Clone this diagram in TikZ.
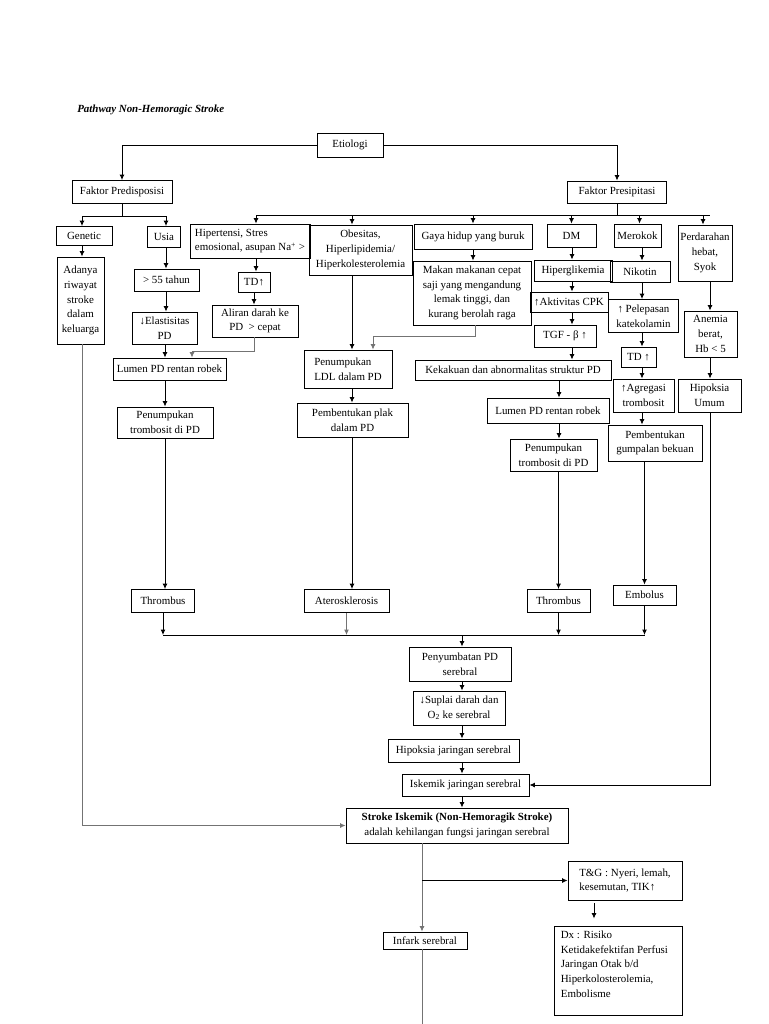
\documentclass[tikz,border=0pt]{standalone}
\usepackage{fontspec}
\setmainfont{Liberation Serif}
\usetikzlibrary{arrows.meta,calc}
\newcommand\fs{\fontsize{8.2}{11}\selectfont}
\begin{document}
\begin{tikzpicture}[x=0.75pt,y=-0.75pt,
  bx/.style={draw, line width=0.65pt, inner sep=1pt, align=center, font=\fs},
  sz/.style 2 args={minimum width=#1*0.75pt, minimum height=#2*0.75pt},
  tx/.style={font=\fs, align=left, inner sep=0pt},
  ln/.style={line width=0.65pt},
  arr/.style={ln,-{Latex[length=4pt,width=3.6pt]}},
  gl/.style={draw=black!55}]
\fill[white] (0,0) rectangle (768,1024);
\useasboundingbox (0,0) rectangle (768,1024);
% column coordinates
\coordinate (xG) at (82,0);
\coordinate (xU) at (166,0);
\coordinate (xH) at (256,0);
\coordinate (xT) at (254,0);
\coordinate (xLm) at (192,0);
\coordinate (xL) at (165,0);
\coordinate (xO) at (352,0);
\coordinate (xGy) at (473,0);
\coordinate (xMk) at (475,0);
\coordinate (xLd) at (373,0);
\coordinate (xDM) at (572,0);
\coordinate (xK) at (559,0);
\coordinate (xM) at (642,0);
\coordinate (xP) at (710,0);
\coordinate (xC) at (462,0);
\coordinate (xS) at (422,0);
\coordinate (xD) at (594,0);
\coordinate (pd) at (0,216);
\coordinate (pr) at (0,215);
\coordinate (mg) at (0,635);
\coordinate (bot) at (0,1024);

% title
\node[anchor=west, font=\fs\bfseries\itshape, inner sep=0pt] (title) at (77,110) {Pathway Non-Hemoragic Stroke};

% nodes
\node[bx, sz={66}{24}] (etio) at (350,145) {Etiologi};
\node[bx, sz={100}{23}] (fpred) at (122,192) {Faktor Predisposisi};
\node[bx, sz={99}{22}] (fpres) at (617,192) {Faktor Presipitasi};
\node[bx, sz={56}{19}] (genetic) at (84,236) {Genetic};
\node[bx, sz={33}{21}] (usia) at (164,237) {Usia};
\node[bx, sz={120}{34}, align=left] (hip) at (250,241) {Hipertensi, Stres\\emosional, asupan Na\textsuperscript{+} >};
\node[bx, sz={103}{50}] (obes) at (360.5,250) {Obesitas,\\Hiperlipidemia/\\Hiperkolesterolemia};
\node[bx, sz={118}{25}] (gaya) at (473,236.5) {Gaya hidup yang buruk};
\node[bx, sz={49}{23}] (dm) at (571.5,235.5) {DM};
\node[bx, sz={47}{23}] (mero) at (637.5,235.5) {Merokok};
\node[bx, sz={54}{56}] (perd) at (705,253) {Perdarahan\\hebat,\\Syok};
\node[bx, sz={47}{87}] (adanya) at (80.5,300.5) {Adanya\\riwayat\\stroke\\dalam\\keluarga};
\node[bx, sz={65}{22}] (t55) at (166.5,280) {> 55 tahun};
\node[bx, sz={32}{20}] (tdL) at (254,282) {TD↑};
\node[bx, sz={86}{32}] (aliran) at (255,321) {Aliran darah ke\\PD~ > cepat};
\node[bx, sz={65}{32}] (elast) at (164.5,328) {↓Elastisitas\\PD};
\node[bx, sz={118}{64}] (makan) at (472,293) {Makan makanan cepat\\saji yang mengandung\\lemak tinggi, dan\\kurang berolah raga};
\node[bx, sz={78}{21}] (hiperg) at (573,270.5) {Hiperglikemia};
\node[bx, sz={60}{21}] (nik) at (640,271.5) {Nikotin};
\node[bx, sz={78}{20}] (cpk) at (569,302) {↑Aktivitas CPK};
\node[bx, sz={70}{33}] (pel) at (643.5,316) {↑ Pelepasan\\katekolamin};
\node[bx, sz={53}{46}] (anem) at (710.5,334) {Anemia\\berat,\\Hb < 5};
\node[bx, sz={62}{22}] (tgf) at (565,336) {TGF - β ↑};
\node[bx, sz={35}{20}] (tdR) at (638.5,357) {TD ↑};
\node[bx, sz={196}{20}] (kek) at (513,370) {Kekakuan dan abnormalitas struktur PD};
\node[bx, sz={88}{38}, align=left] (ldl) at (348,369) {Penumpukan\\LDL dalam PD};
\node[bx, sz={113}{22}] (lumenL) at (169.5,369) {Lumen PD rentan robek};
\node[bx, sz={61}{33}] (agr) at (643.5,395.5) {↑Agregasi\\trombosit};
\node[bx, sz={63}{33}] (hipU) at (709.5,395.5) {Hipoksia\\Umum};
\node[bx, sz={122}{25}] (lumenR) at (548,410.5) {Lumen PD rentan robek};
\node[bx, sz={111}{34}] (plak) at (352.5,420) {Pembentukan plak\\dalam PD};
\node[bx, sz={96}{31}] (trombL) at (165,422.5) {Penumpukan\\trombosit di PD};
\node[bx, sz={94}{36}] (gump) at (655,443) {Pembentukan\\gumpalan bekuan};
\node[bx, sz={87}{32}] (trombR) at (553.5,455) {Penumpukan\\trombosit di PD};
\node[bx, sz={63}{23}] (thrL) at (163,601) {Thrombus};
\node[bx, sz={85}{23}] (ater) at (346.5,601) {Aterosklerosis};
\node[bx, sz={63}{23}] (thrR) at (558.5,601) {Thrombus};
\node[bx, sz={63}{20}] (emb) at (644.5,595) {Embolus};
\node[bx, sz={102}{34}] (peny) at (460,664) {Penyumbatan PD\\serebral};
\node[bx, sz={92}{34}] (supl) at (459,708) {↓Suplai darah dan\\O\textsubscript{2} ke serebral};
\node[bx, sz={131}{23}] (hipJ) at (453.5,750.5) {Hipoksia jaringan serebral};
\node[bx, sz={127}{22}] (isk) at (465.5,785) {Iskemik jaringan serebral};
\node[bx, sz={222}{35}] (stroke) at (457,825.5) {\textbf{Stroke Iskemik (Non-Hemoragik Stroke)}\\adalah kehilangan fungsi jaringan serebral};
\node[bx, sz={114}{39}, align=left] (tg) at (625,880.5) {T\&G : Nyeri, lemah,\\kesemutan, TIK↑};
\node[bx, sz={128}{89}] (dx) at (618,970.5) {};
\node[tx, anchor=north west] (dxt) at ([shift={(7,5)}]dx.north west) {Dx : Risiko\\Ketidakefektifan Perfusi\\Jaringan Otak b/d\\Hiperkolosterolemia,\\Embolisme};
\node[bx, sz={84}{17}] (infark) at (425,940.5) {Infark serebral};

% connectors: top
\draw[arr] (etio.west) -| (fpred.north);
\draw[arr] (etio.east) -| (fpres.north);
\draw[ln] (fpred.south) -- (fpred.south |- pd);
\draw[ln] (xG |- pd) -- (xU |- pd);
\draw[arr] (xG |- pd) -- (xG |- genetic.north);
\draw[arr] (xU |- pd) -- (xU |- usia.north);
\draw[ln] (fpres.south) -- (fpres.south |- pr);
\draw[ln] (xH |- pr) -- (xP |- pr);
\draw[arr] (xH |- pr) -- (xH |- hip.north);
\draw[arr] (xO |- pr) -- (xO |- obes.north);
\draw[arr] (xGy |- pr) -- (xGy |- gaya.north);
\draw[arr] (dm.north |- pr) -- (dm.north);
\draw[arr] ([shift={(2,0)}]mero.north |- pr) -- ([shift={(2,0)}]mero.north);
\draw[arr] ([shift={(-2,0)}]perd.north |- pr) -- ([shift={(-2,0)}]perd.north);

% left column
\draw[arr] (xG |- genetic.south) -- (xG |- adanya.north);
\draw[arr,gl] (xG |- adanya.south) |- (stroke.west);
\draw[arr] (xU |- usia.south) -- (xU |- t55.north);
\draw[arr] (xU |- t55.south) -- (xU |- elast.north);
\draw[arr] (xL |- elast.south) -- (xL |- lumenL.north);
\draw[arr] (xH |- hip.south) -- (xH |- tdL.north);
\draw[arr] (xT |- tdL.south) -- (xT |- aliran.north);
\draw[arr,gl] (xT |- aliran.south) -- ++(0,14) -| (xLm |- lumenL.north);
\draw[arr] (xL |- lumenL.south) -- (xL |- trombL.north);
\draw[arr] (xL |- trombL.south) -- (xL |- thrL.north);

% middle column
\draw[arr] (xO |- obes.south) -- (xO |- ldl.north);
\draw[arr] (xGy |- gaya.south) -- (xGy |- makan.north);
\draw[arr,gl] (xMk |- makan.south) -- ++(0,11) -| (xLd |- ldl.north);
\draw[arr] (xO |- ldl.south) -- (xO |- plak.north);
\draw[arr] (xO |- plak.south) -- (xO |- ater.north);

% DM column
\draw[arr] (xDM |- dm.south) -- (xDM |- hiperg.north);
\draw[arr] (xDM |- hiperg.south) -- (xDM |- cpk.north);
\draw[arr] (xDM |- cpk.south) -- (xDM |- tgf.north);
\draw[arr] (xDM |- tgf.south) -- (xDM |- kek.north);
\draw[arr] (xK |- kek.south) -- (xK |- lumenR.north);
\draw[arr] (xK |- lumenR.south) -- (xK |- trombR.north);
\draw[arr] (thrR.north |- trombR.south) -- (thrR.north);

% Merokok column
\draw[arr] (xM |- mero.south) -- (xM |- nik.north);
\draw[arr] (xM |- nik.south) -- (xM |- pel.north);
\draw[arr] (xM |- pel.south) -- (xM |- tdR.north);
\draw[arr] (xM |- tdR.south) -- (xM |- agr.north);
\draw[arr] (xM |- agr.south) -- (xM |- gump.north);
\draw[arr] (emb.north |- gump.south) -- (emb.north);

% Perdarahan column
\draw[arr] (xP |- perd.south) -- (xP |- anem.north);
\draw[arr] (xP |- anem.south) -- (xP |- hipU.north);
\draw[arr] (xP |- hipU.south) |- (isk.east);

% merge
\draw[arr] (thrL.south) -- (thrL.south |- mg);
\draw[arr,gl] (ater.south) -- (ater.south |- mg);
\draw[arr] (thrR.south) -- (thrR.south |- mg);
\draw[arr] (emb.south) -- (emb.south |- mg);
\draw[ln] (thrL.south |- mg) -- (emb.south |- mg);
\draw[arr] (xC |- mg) -- (xC |- peny.north);
\draw[arr] (xC |- peny.south) -- (xC |- supl.north);
\draw[arr] (xC |- supl.south) -- (xC |- hipJ.north);
\draw[arr] (xC |- hipJ.south) -- (xC |- isk.north);
\draw[arr] (xC |- isk.south) -- (xC |- stroke.north);

% bottom
\draw[arr,gl] (xS |- stroke.south) -- (xS |- infark.north);
\draw[arr] (xS |- tg.west) -- (tg.west);
\draw[arr] ([shift={(0,3)}]xD |- tg.south) -- ([shift={(0,-7)}]xD |- dx.north);
\draw[ln,gl] (xS |- infark.south) -- (xS |- bot);
\end{tikzpicture}
\end{document}
